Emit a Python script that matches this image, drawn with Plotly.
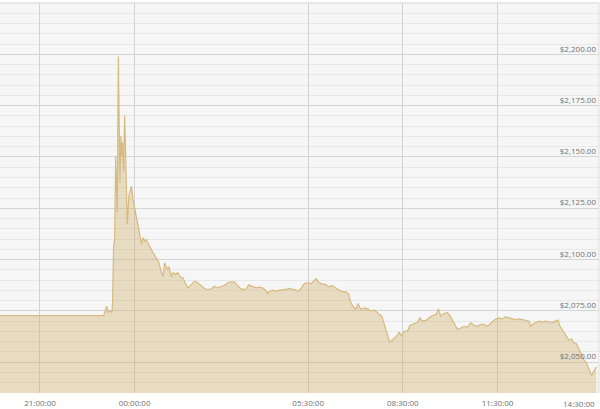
import datetime as dt
import plotly.graph_objects as go

# minutes relative to 21:00 (day 1) and price in USD
minutes = [-76, 121, 127, 129, 133, 137, 138, 139, 140, 142, 144, 147, 149, 152, 154, 156, 157, 159,
           161, 163, 165, 166, 169, 174, 177, 180, 183, 187, 190, 193, 196, 199, 202, 209, 215, 221,
           226, 231, 234, 237, 242, 245, 250, 253, 258, 262, 267, 272, 278, 281, 288, 294, 300, 307,
           313, 319, 326, 332, 338, 345, 351, 357, 364, 370, 374, 380, 386, 392, 397, 405, 411, 417,
           424, 429, 433, 437, 443, 449, 455, 465, 474, 484, 492, 497, 503, 509, 516, 520, 525, 530,
           536, 543, 549, 555, 562, 569, 576, 582, 587, 590, 595, 600, 605, 610, 617, 623, 629, 636,
           642, 645, 650, 653, 657, 661, 665, 670, 677, 683, 687, 693, 699, 703, 712, 718, 722, 727,
           734, 740, 746, 753, 758, 762, 768, 775, 781, 787, 794, 800, 806, 813, 819, 825, 832, 838,
           844, 851, 858, 865, 873, 879, 885, 892, 898, 905, 911, 917, 923, 930, 933, 936, 942, 949,
           955, 961, 968, 974, 980, 985, 988, 993, 998, 1002, 1006, 1011, 1015, 1020, 1025, 1030,
           1034, 1039, 1044, 1049, 1053, 1058]
prices = [2072.7, 2072.7, 2077.3, 2074.2, 2075.2, 2074.2, 2079.1, 2093.7, 2106.4, 2109.8, 2150.3,
          2123.0, 2198.9, 2137.6, 2160.2, 2150.4, 2157.1, 2142.5, 2170.3, 2150.4, 2132.7, 2117.1,
          2130.9, 2135.8, 2129.3, 2126.0, 2121.2, 2116.3, 2111.4, 2107.4, 2110.6, 2109.0, 2109.8,
          2105.9, 2103.3, 2100.9, 2098.6, 2093.6, 2091.8, 2098.4, 2095.2, 2096.5, 2091.6, 2093.6,
          2092.7, 2093.6, 2091.6, 2091.1, 2087.9, 2086.2, 2087.9, 2089.5, 2088.7, 2087.0, 2085.9,
          2085.4, 2085.8, 2087.0, 2086.2, 2087.0, 2087.4, 2088.7, 2089.2, 2089.0, 2087.9, 2086.2,
          2085.4, 2085.8, 2087.7, 2086.7, 2086.2, 2086.6, 2086.1, 2085.1, 2083.5, 2084.6, 2085.1,
          2084.6, 2085.1, 2085.4, 2085.8, 2085.4, 2084.6, 2086.2, 2088.3, 2088.7, 2088.3, 2089.5,
          2090.6, 2089.0, 2088.2, 2087.9, 2086.7, 2087.4, 2086.2, 2085.1, 2084.3, 2084.3, 2083.3,
          2079.7, 2077.3, 2075.7, 2078.6, 2075.7, 2076.5, 2076.0, 2075.0, 2075.4, 2074.1, 2073.2,
          2072.4, 2070.0, 2066.7, 2063.5, 2059.7, 2061.0, 2062.4, 2064.6, 2063.0, 2065.1, 2065.1,
          2067.9, 2068.7, 2069.5, 2071.6, 2070.0, 2070.4, 2071.6, 2072.7, 2073.2, 2076.0, 2072.4,
          2073.7, 2074.1, 2072.1, 2069.2, 2065.9, 2066.7, 2067.5, 2067.0, 2069.2, 2068.0, 2067.5,
          2068.4, 2068.4, 2067.5, 2069.3, 2070.8, 2071.6, 2071.1, 2072.1, 2071.6, 2071.1, 2070.8,
          2071.1, 2070.8, 2070.4, 2070.0, 2067.2, 2068.4, 2069.2, 2070.0, 2069.5, 2070.0, 2069.7,
          2069.2, 2070.0, 2070.5, 2067.9, 2065.9, 2063.5, 2062.4, 2060.7, 2061.4, 2059.4, 2059.1,
          2056.2, 2052.9, 2051.3, 2049.7, 2046.7, 2043.5, 2045.6, 2047.7]

tick_minutes = [0, 180, 510, 690, 870, 1050]
tick_labels = ["21:00:00", "00:00:00", "05:30:00", "08:30:00", "11:30:00", "14:30:00"]
y_ticks = [2050, 2075, 2100, 2125, 2150, 2175, 2200]
y_labels = ["$2,050.00", "$2,075.00", "$2,100.00", "$2,125.00", "$2,150.00", "$2,175.00", "$2,200.00"]
x_range_min = [-76, 1063]
y_range = [2035, 2225]

base = dt.datetime(2024, 1, 1, 21, 0, 0)
to_t = lambda m: base + dt.timedelta(minutes=m)
times = [to_t(m) for m in minutes]

# last x label is drawn as an annotation, right-aligned so it stays inside the page
x_ticktext = tick_labels[:-1] + [""]

fig = go.Figure()
fig.add_trace(go.Scatter(
    x=times, y=prices, mode="lines",
    line=dict(color="rgb(214,186,128)", width=1.2),
    fill="tozeroy", fillcolor="rgba(206,172,100,0.36)",
    hoverinfo="skip", showlegend=False,
))

fig.update_layout(
    width=600, height=409,
    margin=dict(l=0, r=1, t=3, b=16, autoexpand=False),
    paper_bgcolor="white", plot_bgcolor="#f6f6f6",
    font=dict(family="Open Sans", size=8, color="#707070"),
    xaxis=dict(
        type="date", range=[to_t(x_range_min[0]), to_t(x_range_min[1])],
        tickmode="array", tickvals=[to_t(m) for m in tick_minutes], ticktext=x_ticktext,
        showgrid=True, gridcolor="#d2d2d2", gridwidth=1, automargin=False,
        zeroline=False, showline=False, ticks="", ticklabelstandoff=4,
        tickfont=dict(size=8, color="#707070"),
    ),
    yaxis=dict(
        range=y_range, side="right", ticklabelposition="inside top", automargin=False,
        tickmode="array", tickvals=y_ticks, ticktext=y_labels,
        showgrid=True, gridcolor="#d4d4d4", gridwidth=1,
        minor=dict(tickmode="linear", tick0=0, dtick=5, showgrid=True, gridcolor="#e8e8e8", gridwidth=1),
        zeroline=False, showline=False, ticks="",
        tickfont=dict(size=8, color="#707070"),
    ),
    annotations=[
        dict(text=tick_labels[-1], xref="paper", yref="paper", x=0.997, y=0,
             xanchor="right", yanchor="top", yshift=-3, showarrow=False,
             font=dict(family="Open Sans", size=8, color="#707070")),
    ],
    shapes=[
        dict(type="line", xref="paper", yref="paper", x0=0, x1=1, y0=1, y1=1,
             line=dict(color="#d4d4d4", width=1)),
        dict(type="line", xref="paper", yref="paper", x0=1, x1=1, y0=0, y1=1,
             line=dict(color="#dcdcdc", width=1)),
    ],
)

fig.write_html("out.html", config={"displayModeBar": False},
               post_script="document.body.style.margin='0px';document.body.style.overflow='hidden';")
